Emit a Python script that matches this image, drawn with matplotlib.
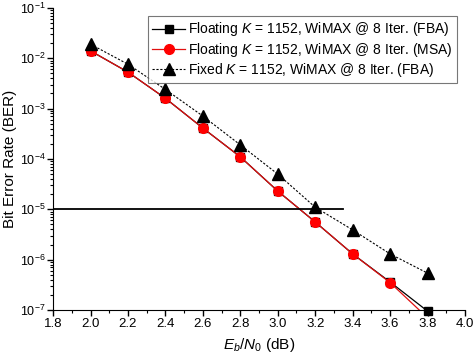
import numpy as np
import matplotlib
matplotlib.use("Agg")
from matplotlib import pyplot as plt
from matplotlib.ticker import LogLocator, MultipleLocator, FuncFormatter, NullFormatter

plt.rcParams['font.family'] = ['Liberation Sans', 'DejaVu Sans']
plt.rcParams['mathtext.fontset'] = 'custom'
plt.rcParams['mathtext.rm'] = 'Liberation Sans'
plt.rcParams['mathtext.it'] = 'Liberation Sans:italic'

# data
ebn0 = [2.0, 2.2, 2.4, 2.6, 2.8, 3.0, 3.2, 3.4, 3.6, 3.8]
ber_float_fba = [1.4e-2, 5.3e-3, 1.6e-3, 4.1e-4, 1.1e-4, 2.3e-5, 5.6e-6, 1.3e-6, 3.6e-7, 9.5e-8]
ber_float_msa = [1.4e-2, 5.3e-3, 1.6e-3, 4.1e-4, 1.1e-4, 2.3e-5, 5.6e-6, 1.3e-6, 3.5e-7, 7e-8]
ber_fixed_fba = [1.9e-2, 7.6e-3, 2.4e-3, 7.1e-4, 1.9e-4, 5.0e-5, 1.1e-5, 3.9e-6, 1.3e-6, 5.4e-7]
ref_x = [1.8, 3.35]
ref_ber = [1e-5, 1e-5]
y_ticks = [1e-7, 1e-6, 1e-5, 1e-4, 1e-3, 1e-2, 1e-1]

labels = ['Floating $K$ = 1152, WiMAX @ 8 Iter. (FBA)',
          'Floating $K$ = 1152, WiMAX @ 8 Iter. (MSA)',
          'Fixed $K$ = 1152, WiMAX @ 8 Iter. (FBA)']

fig = plt.figure(figsize=(4.74, 3.58), dpi=100)
ax = fig.add_axes([0.112, 0.134, 0.869, 0.844])

ax.plot(ebn0, ber_float_fba, 'k-', marker='s', ms=6, lw=0.9, label=labels[0], clip_on=False)
ax.plot(ebn0, ber_float_msa, '-', color='#e01010', marker='o', ms=7, lw=0.9,
        mfc='#ff0000', mec='#ff0000', label=labels[1])
ax.plot(ebn0, ber_fixed_fba, color='k', ls=(0, (2, 1.5)), marker='^', ms=8, lw=0.8,
        label=labels[2])
ax.plot(ref_x, ref_ber, 'k-', lw=1.3)

ax.set_yscale('log')
ax.set_xlim(1.8, 4.0)
ax.set_ylim(1e-7, 1e-1)
ax.xaxis.set_major_locator(MultipleLocator(0.2))
ax.xaxis.set_minor_locator(MultipleLocator(0.1))
ax.xaxis.set_major_formatter(FuncFormatter(lambda v, p: '%.1f' % v))
ax.set_yticks(y_ticks)
ax.yaxis.set_minor_locator(LogLocator(base=10, subs=np.arange(2, 10), numticks=20))
ax.yaxis.set_major_formatter(FuncFormatter(
    lambda v, p: '10$^{\\mathregular{-%d}}$' % round(-np.log10(v))))
ax.yaxis.set_minor_formatter(NullFormatter())

for s in ['top', 'right']:
    ax.spines[s].set_visible(False)
ax.tick_params(which='major', direction='out', length=4, width=1, labelsize=9.5, pad=2)
ax.tick_params(axis='y', which='major', labelsize=9, pad=1.5)
ax.tick_params(which='minor', direction='out', length=2.5, width=0.8)

ax.set_xlabel('$E_b/N_0$ (dB)', fontsize=11)
ax.set_ylabel('Bit Error Rate (BER)', fontsize=11)
ax.xaxis.set_label_coords(0.5, -0.085)
ax.yaxis.set_label_coords(-0.088, 0.5)

leg = ax.legend(loc='upper right', fontsize=10, frameon=True, fancybox=False,
                edgecolor='#555555', handlelength=2.4, borderpad=0.3,
                labelspacing=0.15, handletextpad=0.2, bbox_to_anchor=(0.997, 0.995))
leg.get_frame().set_linewidth(0.8)

plt.savefig('out.png', dpi=100)
